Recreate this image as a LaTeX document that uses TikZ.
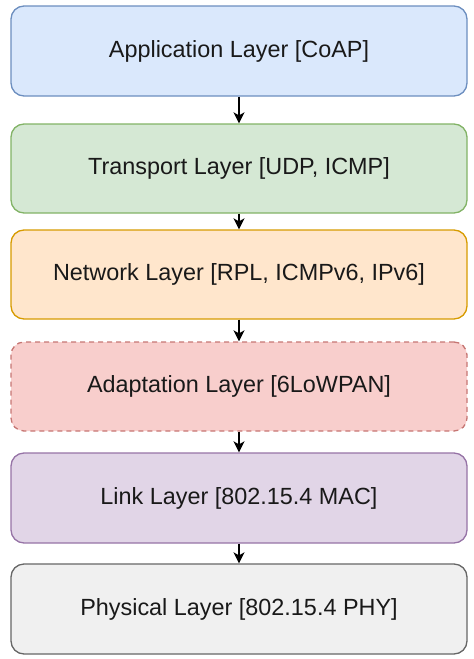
\documentclass[tikz,border=0pt]{standalone}
\usepackage{fontspec}
\setmainfont{Liberation Sans}
\usetikzlibrary{arrows.meta}
\definecolor{bluef}{HTML}{DAE8FC}\definecolor{blued}{HTML}{6C8EBF}
\definecolor{greenf}{HTML}{D5E8D4}\definecolor{greend}{HTML}{82B366}
\definecolor{orangef}{HTML}{FFE6CC}\definecolor{oranged}{HTML}{D79B00}
\definecolor{redf}{HTML}{F8CECC}\definecolor{redd}{HTML}{B85450}
\definecolor{purplef}{HTML}{E1D5E7}\definecolor{purpled}{HTML}{9673A6}
\definecolor{grayf}{HTML}{F0F0F0}\definecolor{grayd}{HTML}{666666}
\begin{document}
\begin{tikzpicture}[x=1pt,y=-1pt,
  layer/.style={draw, line width=1.3pt, rounded corners=13pt, minimum width=456pt,
    inner sep=0pt, font=\fontsize{23.4}{28}\selectfont, text=black!90},
  conn/.style={-{Stealth[length=11pt,width=11pt,inset=3pt]}, line width=1.8pt, black}]
\useasboundingbox (0,0) rectangle (474,659);
\node[layer, fill=bluef, draw=blued, minimum height=90pt] (app) at (239,51) {Application Layer [CoAP]};
\node[layer, fill=greenf, draw=greend, minimum height=89pt] (tra) at (239,168.5) {Transport Layer [UDP, ICMP]};
\node[layer, fill=orangef, draw=oranged, minimum height=89pt] (net) at (239,274.5) {Network Layer [RPL, ICMPv6, IPv6]};
\node[layer, fill=redf, draw=redd!80, dash pattern=on 5pt off 4pt, minimum height=89pt] (ada) at (239,386.5) {Adaptation Layer [6LoWPAN]};
\node[layer, fill=purplef, draw=purpled, minimum height=90pt] (lnk) at (239,498) {Link Layer [802.15.4 MAC]};
\node[layer, fill=grayf, draw=grayd, minimum height=90pt] (phy) at (239,609) {Physical Layer [802.15.4 PHY]};
\draw[conn] (app) -- (tra);
\draw[conn] (tra) -- (net);
\draw[conn] (net) -- (ada);
\draw[conn] (ada) -- (lnk);
\draw[conn] (lnk) -- (phy);
\end{tikzpicture}
\end{document}
